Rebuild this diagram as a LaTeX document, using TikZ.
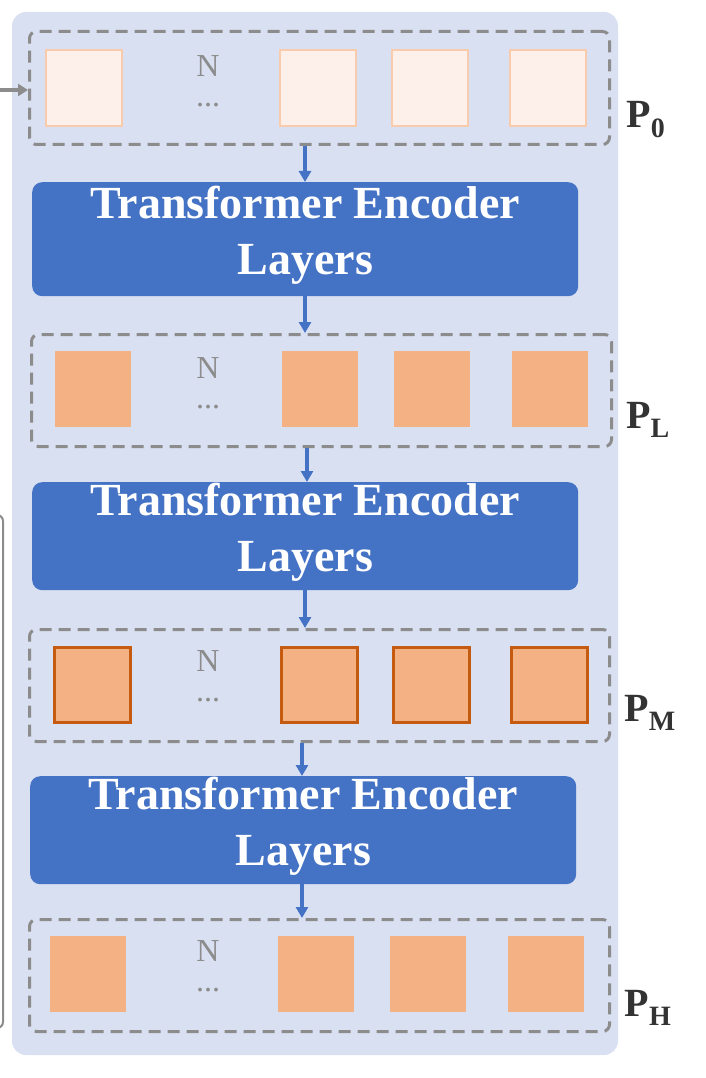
\documentclass[tikz,border=0pt]{standalone}
\usepackage{fontspec}
\setmainfont{Liberation Serif}
\usetikzlibrary{arrows.meta}
\definecolor{bgb}{HTML}{D9E0F2}
\definecolor{encb}{HTML}{4472C4}
\definecolor{lightsq}{HTML}{FDF0EA}
\definecolor{lightsqd}{HTML}{F8CBAD}
\definecolor{sq}{HTML}{F4B183}
\definecolor{sqd}{HTML}{C55A11}
\definecolor{dgray}{HTML}{8C8C8C}
\tikzset{
 dbox/.style={draw=dgray,dashed,line width=3pt,dash pattern=on 12pt off 7pt,rounded corners=7pt},
 enc/.style={fill=encb,rounded corners=10pt},
 enctext/.style={text=white,font=\fontsize{46}{56}\selectfont\bfseries,align=center},
 sq0/.style={fill=lightsq,draw=lightsqd,line width=2pt},
 sqL/.style={fill=sq},
 sqM/.style={fill=sq,draw=sqd,line width=3pt},
 nlab/.style={text=dgray,font=\fontsize{32}{32}\selectfont,inner sep=0pt},
 plab/.style={font=\fontsize{40}{40}\selectfont\bfseries,text=black!80},
 barr/.style={-{Triangle[length=11pt,width=12pt]},draw=encb,line width=3.5pt},
}
\begin{document}
\begin{tikzpicture}[x=1pt,y=-1pt]
\useasboundingbox (0,0) rectangle (705,1078);
\fill[bgb,rounded corners=14pt] (12,12) rectangle (618,1055);
\draw[dgray,line width=2pt,rounded corners=6pt] (-20,515) -- (3,515) -- (3,1028) -- (-20,1028);
\coordinate (in0) at (-2,90); \coordinate (in1) at (28,90);
\draw[dgray,line width=3.5pt,-{Triangle[length=10pt,width=12pt]}] (in0) -- (in1);
% rows
\node[dbox,minimum width=580,minimum height=113,anchor=north west] (r0) at (28,30) {};
\node[dbox,minimum width=580,minimum height=112,anchor=north west] (rL) at (30,333) {};
\node[dbox,minimum width=580,minimum height=112,anchor=north west] (rM) at (28,628) {};
\node[dbox,minimum width=580,minimum height=112,anchor=north west] (rH) at (28,918) {};
% squares
\foreach \x in {46,280,392,510} \draw[sq0] (\x,50) rectangle ++(76,76);
\foreach \x in {55,282,394,512} \fill[sqL] (\x,351) rectangle ++(76,76);
\foreach \x in {54,281,393,511} \draw[sqM] (\x,647) rectangle ++(76,75);
\foreach \x in {50,278,390,508} \fill[sqL] (\x,936) rectangle ++(76,76);
\foreach \y/\n in {66/a,368/b,661/c,951/d}{
 \node[nlab] (N\n) at (208,\y) {N};
 \node[nlab,anchor=south] (D\n) at (208,\y+41) {...};
}
% encoders
\node[enc,minimum width=546,minimum height=114,anchor=north west] (e1) at (32,182) {};
\node[enctext] at ([yshift=4pt]e1.center) {Transformer Encoder\\Layers};
\node[enc,minimum width=546,minimum height=108,anchor=north west] (e2) at (32,482) {};
\node[enctext] at ([yshift=4pt]e2.center) {Transformer Encoder\\Layers};
\node[enc,minimum width=546,minimum height=108,anchor=north west] (e3) at (30,776) {};
\node[enctext] at ([yshift=4pt]e3.center) {Transformer Encoder\\Layers};
% arrows
\draw[barr] (r0.south -| 305,0) -- (e1.north -| 305,0);
\draw[barr] (e1.south -| 305,0) -- (rL.north -| 305,0);
\draw[barr] (rL.south -| 307,0) -- (e2.north -| 307,0);
\draw[barr] (e2.south -| 305,0) -- (rM.north -| 305,0);
\draw[barr] (rM.south -| 302,0) -- (e3.north -| 302,0);
\draw[barr] (e3.south -| 302,0) -- (rH.north -| 302,0);
% labels
\node[plab] (p0) at (646,120) {P\textsubscript{0}};
\node[plab] (pL) at (648,420) {P\textsubscript{L}};
\node[plab] (pM) at (650,713) {P\textsubscript{M}};
\node[plab] (pH) at (648,1008) {P\textsubscript{H}};
\end{tikzpicture}
\end{document}
